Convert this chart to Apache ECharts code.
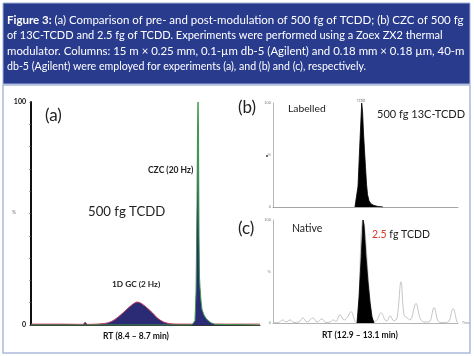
<!DOCTYPE html>
<html><head><meta charset="utf-8">
<script src="https://cdn.jsdelivr.net/npm/echarts@6/dist/echarts.min.js"></script>
<style>html,body{margin:0;padding:0;background:#fff}#c{width:474px;height:356px}</style>
</head><body><div id="c"></div>
<script>
// ---- caption text ----
const captionLines = [
  "(a) Comparison of pre- and post-modulation of 500 fg of TCDD; (b) CZC of 500 fg",
  "of 13C-TCDD and 2.5 fg of TCDD. Experiments were performed using a Zoex ZX2 thermal",
  "modulator. Columns: 15 m \u00d7 0.25 mm, 0.1-\u00b5m db-5 (Agilent) and 0.18 mm \u00d7 0.18 \u00b5m, 40-m",
  "db-5 (Agilent) were employed for experiments (a), and (b) and (c), respectively."
];
const captionLead = "Figure 3:";

// ---- panel (a): RT 8.4 - 8.7 min, intensity % ----
const rangeA = [8.4, 8.7];
const gc1d = [
  [8.400,0.4],[8.438,0.4],[8.468,0.3],[8.471,1.2],[8.474,0.3],[8.490,0.5],[8.501,1.0],
  [8.510,2.5],[8.519,5.0],[8.527,7.5],[8.534,9.5],[8.539,10.3],[8.544,9.8],[8.551,8.0],
  [8.559,5.5],[8.566,3.0],[8.574,1.3],[8.582,0.6],[8.595,0.4],[8.700,0.4]
];
const czc = [
  [8.400,0],[8.608,0],[8.612,0.5],[8.6148,2],[8.6162,15],[8.6175,55],[8.6181,85],
  [8.6188,100],[8.6194,88],[8.6201,40],[8.6207,22],[8.6214,17],[8.6227,11],[8.6240,7],
  [8.6266,4.5],[8.6293,3],[8.6319,2],[8.6358,1],[8.6410,0.3],[8.700,0]
];

// ---- panels (b), (c): RT 12.9 - 13.1 min ----
const rangeBC = [12.9, 13.1];
const labelled = [
  [12.9886,0],[12.9903,1],[12.9919,20],[12.9941,65],[12.9959,100],[12.9968,92],
  [12.9978,72],[12.9989,55],[13.0000,38],[13.0011,22],[13.0022,12],[13.0038,6],
  [13.0060,3],[13.0092,1.5],[13.0135,0.5],[13.0189,0]
];
const nativePeak = [
  [12.9908,0],[12.9930,25],[12.9951,60],[12.9973,100],[12.9984,95],[13.0005,65],
  [13.0027,40],[13.0049,20],[13.0070,6],[13.0092,0]
];
const nativeNoise = [
  [12.9000,0.5],[12.9054,0.5],[12.9108,3],[12.9141,1],[12.9184,3],[12.9227,0.5],
  [12.9281,1],[12.9324,5],[12.9368,1],[12.9432,5],[12.9476,1],[12.9530,4],[12.9573,0.5],
  [12.9616,1],[12.9649,3],[12.9681,1.5],[12.9724,8],[12.9768,3],[12.9800,5],[12.9843,11],
  [12.9886,2],[12.9908,0],[12.9973,100],[13.0092,1],[13.0124,3],[13.0168,10],[13.0211,3],
  [13.0232,2],[13.0265,7],[13.0308,2],[13.0341,5],[13.0384,40],[13.0416,8],[13.0449,5],
  [13.0481,3],[13.0546,19],[13.0589,5],[13.0632,1],[13.0686,1],[13.0741,15],[13.0784,2],
  [13.0827,0.5],[13.0892,1],[13.0946,14],[13.0989,1],[13.1000,0.5]
];
const yTickLabels = ["0", "100"];

const chart = echarts.init(document.getElementById('c'), null, {renderer:'canvas'});
const FONT = 'Lato';
const navy = '#2a2b74';

// caption line widths in the reference layout (px)
const captionWidths = [457, 436, 458, 359];
const mctx = document.createElement('canvas').getContext('2d');
function lineWidthAt(size, i){
  let w = 0;
  if (i === 0) {
    mctx.font = 'bold ' + size + 'px ' + FONT; w += mctx.measureText(captionLead).width;
    mctx.font = size + 'px ' + FONT; w += mctx.measureText(' ' + captionLines[0]).width;
  } else {
    mctx.font = size + 'px ' + FONT; w = mctx.measureText(captionLines[i]).width;
  }
  return w;
}

function yAxisSmall(gi){
  return {
    gridIndex: gi, type:'value', min:0, max:100, interval:50,
    axisLine:{show:true, lineStyle:{color:'#b5b5b5', width:1}},
    axisTick:{show:false}, splitLine:{show:false},
    axisLabel:{fontSize:4, color:'#777', margin:2,
      formatter: v => (v===0 ? yTickLabels[0] : v===100 ? yTickLabels[1] : '%')}
  };
}
function xAxisBase(gi, range, color){
  return {
    gridIndex: gi, type:'value', min:range[0], max:range[1],
    axisLine:{show:true, onZero:false, lineStyle:{color:color, width:1}},
    axisTick:{show:false}, axisLabel:{show:false}, splitLine:{show:false}
  };
}

const texts = [
  {x:45, y:116, t:'(a)', s:17, c:'#222'},
  {x:148, y:170, t:'CZC (20 Hz)', s:8.5, c:'#222', w:'bold'},
  {x:88, y:212, t:'500 fg TCDD', s:13.2, c:'#222'},
  {x:112, y:284, t:'1D GC (2 Hz)', s:8.3, c:'#222', w:'bold'},
  {x:103, y:336, t:'RT (8.4 \u2013 8.7 min)', s:8.5, c:'#111', w:'bold'},
  {x:12, y:212, t:'%', s:5, c:'#777'},
  {x:238, y:108, t:'(b)', s:17, c:'#222'},
  {x:288, y:109, t:'Labelled', s:10.3, c:'#222'},
  {x:377, y:114, t:'500 fg 13C-TCDD', s:11, c:'#222'},
  {x:238, y:229, t:'(c)', s:17, c:'#222'},
  {x:292, y:229, t:'Native', s:10.5, c:'#222'},
  {x:322, y:335, t:'RT (12.9 \u2013 13.1 min)', s:8.5, c:'#111', w:'bold'},
  {x:462, y:323, t:'Time', s:3.5, c:'#888'},
  {x:357, y:101, t:'TCDD', s:3, c:'#666'}
];

function build(){
  const graphic = [
    {type:'rect', shape:{x:3, y:3, width:467, height:81}, style:{fill:'#293b8d', stroke:'#9fb2d8', lineWidth:1}, z:0},
    {type:'rect', shape:{x:3, y:85, width:467, height:268}, style:{fill:'none', stroke:'#a9bbd9', lineWidth:1.5}, z:0},
    {type:'text', x:372, y:235, style:{text:'{r|2.5} fg TCDD', font:'10.5px '+FONT, fill:'#222', verticalAlign:'middle',
      rich:{r:{fill:'#d33a2c', fontSize:10.5, fontFamily:FONT}}}, z:10},
    {type:'circle', shape:{cx:267, cy:156, r:0.9}, style:{fill:'#222'}, z:10}
  ];
  captionLines.forEach((line, i) => {
    const base = 11.5;
    let size = base * captionWidths[i] / lineWidthAt(base, i);
    size = Math.max(10.5, Math.min(12, size));
    graphic.push({type:'text', x:7, y:20 + i*15.5, z:10,
      style:{text: i===0 ? '{b|'+captionLead+'} '+line : line,
        font:size.toFixed(2)+'px '+FONT, fill:'#ffffff', verticalAlign:'middle',
        rich:{b:{fontWeight:'bold', fontSize:size, fontFamily:FONT, fill:'#ffffff'}}}});
  });
  texts.forEach(o => graphic.push({type:'text', x:o.x, y:o.y, z:10,
    style:{text:o.t, font:(o.w||'normal')+' '+o.s+'px '+FONT, fill:o.c, verticalAlign:'middle'}}));

  chart.setOption({
    animation:false,
    grid:[
      {left:31, top:102, width:229, height:223},
      {left:273, top:103, width:185, height:104},
      {left:273, top:220, width:185, height:103}
    ],
    xAxis:[
      xAxisBase(0, rangeA, '#333'),
      xAxisBase(1, rangeBC, '#a5a5a5'),
      xAxisBase(2, rangeBC, '#b5b5b5')
    ],
    yAxis:[
      {gridIndex:0, type:'value', min:0, max:100, interval:10,
        axisLine:{show:true, lineStyle:{color:'#111', width:2}},
        axisTick:{show:true, length:2, lineStyle:{color:'#666', width:0.6}},
        splitLine:{show:false},
        axisLabel:{fontSize:7, fontWeight:'bold', color:'#111', margin:5, fontFamily:FONT,
          formatter: v => (v===0 ? yTickLabels[0] : v===100 ? yTickLabels[1] : '')}},
      yAxisSmall(1),
      yAxisSmall(2)
    ],
    graphic: graphic,
    series:[
      {type:'line', xAxisIndex:0, yAxisIndex:0, data:gc1d, showSymbol:false, smooth:0.3,
        lineStyle:{color:'#c8405a', width:1}, areaStyle:{color:navy, opacity:1}, z:3},
      {type:'line', xAxisIndex:0, yAxisIndex:0, data:czc, showSymbol:false,
        lineStyle:{color:'#3f9a4c', width:1}, areaStyle:{color:navy, opacity:1}, z:4},
      {type:'line', xAxisIndex:1, yAxisIndex:1, data:labelled, showSymbol:false,
        lineStyle:{color:'#000', width:0.8}, areaStyle:{color:'#000', opacity:1}, z:4},
      {type:'line', xAxisIndex:2, yAxisIndex:2, data:nativeNoise, showSymbol:false, smooth:0.4,
        lineStyle:{color:'#c4c4c4', width:1}, z:3},
      {type:'line', xAxisIndex:2, yAxisIndex:2, data:nativePeak, showSymbol:false,
        lineStyle:{color:'#000', width:0.8}, areaStyle:{color:'#000', opacity:1}, z:4}
    ]
  });
}
if (document.fonts && document.fonts.load) {
  Promise.all([document.fonts.load('11px ' + FONT), document.fonts.load('bold 11px ' + FONT)])
    .then(build, build);
} else { build(); }
</script></body></html>
